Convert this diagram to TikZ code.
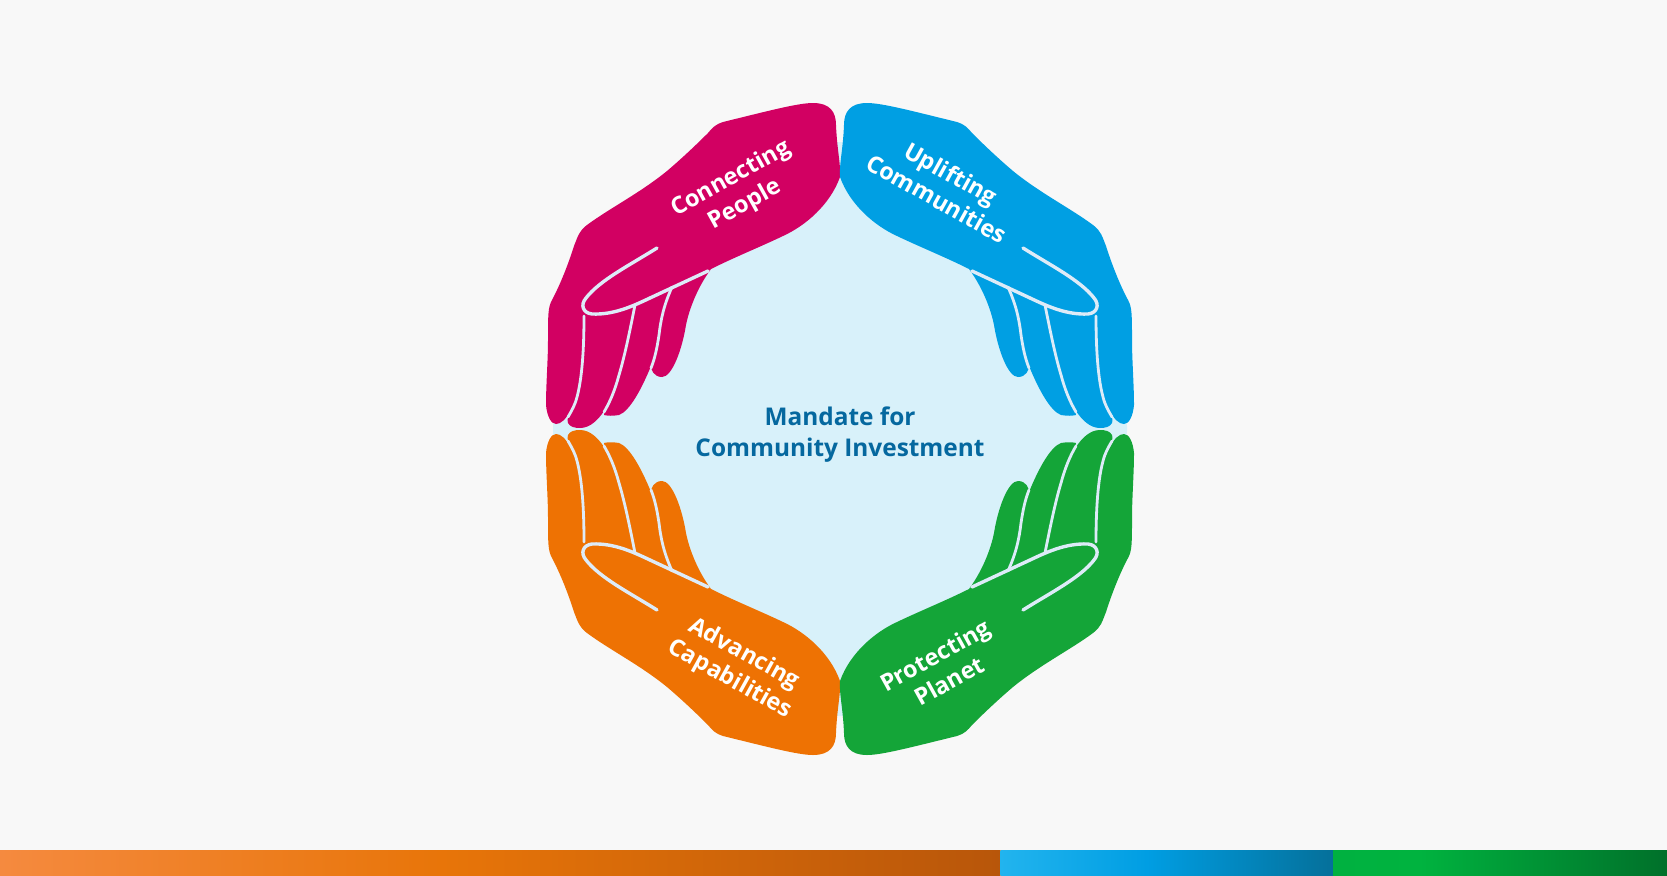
\documentclass[tikz,border=0pt]{standalone}
\usepackage{fontspec}
\setmainfont{Open Sans}
\definecolor{pagebg}{HTML}{F8F8F8}
\definecolor{disc}{HTML}{D8F1FA}
\definecolor{handline}{HTML}{DDEBF8}
\definecolor{handpink}{HTML}{D20062}
\definecolor{handblue}{HTML}{009FE3}
\definecolor{handgreen}{HTML}{14A538}
\definecolor{handorange}{HTML}{EE7203}
\definecolor{titleblue}{HTML}{05689F}
\definecolor{oa}{HTML}{F58A3F}\definecolor{ob}{HTML}{E87509}\definecolor{oc}{HTML}{B8560A}
\definecolor{ba}{HTML}{22B4EE}\definecolor{bb}{HTML}{009EE3}\definecolor{bc}{HTML}{05709A}
\definecolor{ga}{HTML}{00B140}\definecolor{gb}{HTML}{00B33F}\definecolor{gc}{HTML}{00702A}
\pgfdeclarehorizontalshading{orangebar}{100bp}{color(0bp)=(oa); color(25bp)=(oa); color(47bp)=(ob); color(75bp)=(oc); color(100bp)=(oc)}
\pgfdeclarehorizontalshading{bluebar}{100bp}{color(0bp)=(ba); color(25bp)=(ba); color(47bp)=(bb); color(75bp)=(bc); color(100bp)=(bc)}
\pgfdeclarehorizontalshading{greenbar}{100bp}{color(0bp)=(ga); color(25bp)=(ga); color(38bp)=(gb); color(75bp)=(gc); color(100bp)=(gc)}
\tikzset{
  palmline/.style={draw=handline,line width=3.4pt,line cap=round,line join=round},
  fingerline/.style={draw=handline,line width=2.8pt,line cap=round},
  handlabel/.style={text=white,font=\fontsize{23.5}{29}\selectfont\bfseries,align=center,inner sep=0pt},
  titlelabel/.style={text=titleblue,font=\fontsize{24.4}{31}\selectfont\bfseries,align=center,inner sep=0pt}
}
\newcommand{\handat}[3]{%
  \begin{scope}[shift={(840,429)},xscale=#1,yscale=#2]
  \begin{scope}[shift={(-840,-429)}]
    \fill[#3] (813,103)
      .. controls (798,103) and (768,111) .. (723,122)
      .. controls (716,124) and (712,128) .. (708,133)
      .. controls (695,146) and (680,160) .. (667,171)
      .. controls (640,193) and (610,208) .. (587,225)
      .. controls (579,231) and (578,236) .. (574,246)
      .. controls (568,265) and (560,285) .. (552,300)
      .. controls (548,307) and (548,315) .. (548,340)
      .. controls (548,360) and (546,385) .. (546,405)
      .. controls (547,416) and (551,424) .. (556,424)
      .. controls (561,424) and (566,419) .. (570,411)
      .. controls (568,416) and (567,420) .. (568,423)
      .. controls (570,427) and (575,428) .. (580,428)
      .. controls (590,428) and (598,420) .. (604,411)
      .. controls (605,413) and (604,414) .. (604,415)
      .. controls (608,416) and (613,416) .. (619,415)
      .. controls (630,411) and (642,388) .. (651,366)
      .. controls (651,370) and (654,377) .. (662,377)
      .. controls (672,377) and (682,350) .. (686,325)
      .. controls (689,310) and (697,288) .. (711,269)
      .. controls (735,257) and (760,247) .. (783,236)
      .. controls (805,226) and (830,205) .. (840,177)
      .. controls (841,165) and (837,150) .. (836,125)
      .. controls (836,112) and (830,103) .. (813,103) -- cycle;
    \draw[palmline] (657,248)
      .. controls (630,265) and (600,280) .. (586,298)
      .. controls (580,305) and (583,313) .. (592,314)
      .. controls (615,315) and (635,305) .. (650,298)
      -- (708,271);
    \draw[fingerline] (584,316) .. controls (584,340) and (583,375) .. (577,397) .. controls (575,405) and (572,410) .. (568,417);
    \draw[fingerline] (635,305) .. controls (630,330) and (625,355) .. (619,375) .. controls (615,390) and (610,402) .. (604,412);
    \draw[fingerline] (672,287) .. controls (664,305) and (661,318) .. (659,335) .. controls (657,348) and (655,358) .. (651,368);
  \end{scope}
  \end{scope}}
\begin{document}
\begin{tikzpicture}[x=1pt,y=-1pt]
  \useasboundingbox (0,0) rectangle (1667,875);
  \fill[pagebg] (0,0) rectangle (1667,875);
  \shade[shading=orangebar] (0,850) rectangle (1000.5,875);
  \shade[shading=bluebar] (1000.5,850) rectangle (1333,875);
  \shade[shading=greenbar] (1333,850) rectangle (1667,875);
  \fill[disc] (840,429) circle[radius=287];
  \handat{1}{1}{handpink}
  \handat{-1}{1}{handblue}
  \handat{1}{-1}{handorange}
  \handat{-1}{-1}{handgreen}
  \node[titlelabel] (title) at (840,435) {Mandate for\\Community Investment};
  \node[handlabel,rotate=29] (connect) at (738,192) {Connecting\\People};
  \node[handlabel,rotate=-29] (uplift) at (944,186) {Uplifting\\Communities};
  \node[handlabel,rotate=-29] (advance) at (737,667) {Advancing\\Capabilities};
  \node[handlabel,rotate=29] (protect) at (942,668) {Protecting\\Planet};
\end{tikzpicture}
\end{document}
